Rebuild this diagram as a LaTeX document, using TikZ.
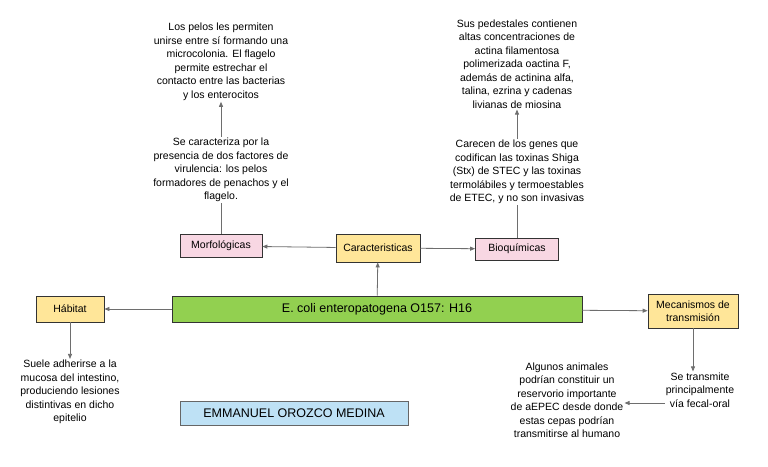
\documentclass[tikz,border=0pt]{standalone}
\usepackage{fontspec}
\setmainfont{Liberation Sans}
\usetikzlibrary{arrows.meta}
\definecolor{pk}{RGB}{248,215,227}
\definecolor{yl}{RGB}{255,230,153}
\definecolor{gr}{RGB}{146,208,80}
\definecolor{bl}{RGB}{190,225,245}
\definecolor{ln}{RGB}{110,110,110}
\begin{document}
\begin{tikzpicture}[x=1pt,y=-1pt,font=\fontsize{10.5}{13.5}\selectfont,
 bx/.style={draw=black!80,thick,inner sep=0pt,align=center},
 tx/.style={align=center,inner sep=1pt},
 ar/.style={draw=ln,thick,-{Triangle[length=5pt,width=4pt]}},
 pl/.style={draw=ln,thick}]
\useasboundingbox[fill=white] (0,0) rectangle (768,466);
\node[bx,fill=pk,minimum width=82,minimum height=23] (mor) at (221,246) {Morfológicas};
\node[bx,fill=yl,minimum width=84,minimum height=28] (car) at (378,248) {Caracteristicas};
\node[bx,fill=pk,minimum width=83,minimum height=22] (bio) at (517,249) {Bioquímicas};
\node[bx,fill=gr,minimum width=410,minimum height=26,font=\fontsize{12.5}{14}\selectfont] (main) at (377,309) {E. coli enteropatogena O157: H16};
\node[bx,fill=yl,minimum width=68,minimum height=26] (hab) at (70,309) {Hábitat};
\node[bx,fill=yl,minimum width=90,minimum height=34] (mec) at (693,311) {Mecanismos de\\transmisión};
\node[tx] (mt1) at (221,62) {Los pelos les permiten\\unirse entre sí formando una\\microcolonia. El flagelo\\permite estrechar el\\contacto entre las bacterias\\y los enterocitos};
\node[tx] (mt2) at (221,170) {Se caracteriza por la\\presencia de dos factores de\\virulencia: los pelos\\formadores de penachos y el\\flagelo.};
\node[tx] (bt1) at (517,64) {Sus pedestales contienen\\altas concentraciones de\\actina filamentosa\\polimerizada oactina F,\\además de actinina alfa,\\talina, ezrina y cadenas\\livianas de miosina};
\node[tx] (bt2) at (517,172) {Carecen de los genes que\\codifican las toxinas Shiga\\(Stx) de STEC y las toxinas\\termolábiles y termoestables\\de ETEC, y no son invasivas};
\node[tx] (ht) at (70,392) {Suele adherirse a la\\mucosa del intestino,\\produciendo lesiones\\distintivas en dicho\\epitelio};
\node[tx] (st) at (700,390) {Se transmite\\principalmente\\vía fecal-oral};
\node[tx] (aa) at (567,400) {Algunos animales\\podrían constituir un\\reservorio importante\\de aEPEC desde donde\\estas cepas podrían\\transmitirse al humano};
\node[draw=black!60,fill=bl,minimum width=228,minimum height=24,inner sep=0pt,font=\fontsize{12.5}{14}\selectfont] (name) at (294,413) {EMMANUEL OROZCO MEDINA};
\draw[ar] (car) -- (mor);
\draw[ar] (car) -- (bio);
\draw[ar] (main) -- (car);
\draw[ar] (main) -- (hab);
\draw[ar] (main) -- (mec);
\draw[pl] (mor) -- (mt2);
\draw[ar] (mt2) -- (mt1);
\draw[pl] (bio) -- (bt2);
\draw[ar] (bt2) -- (bt1);
\draw[ar] (hab) -- (hab |- ht.north);
\draw[ar] (mec) -- (mec |- st.north);
\draw[ar] (st.west |- 0,403) -- (aa.east |- 0,403);
\end{tikzpicture}
\end{document}
